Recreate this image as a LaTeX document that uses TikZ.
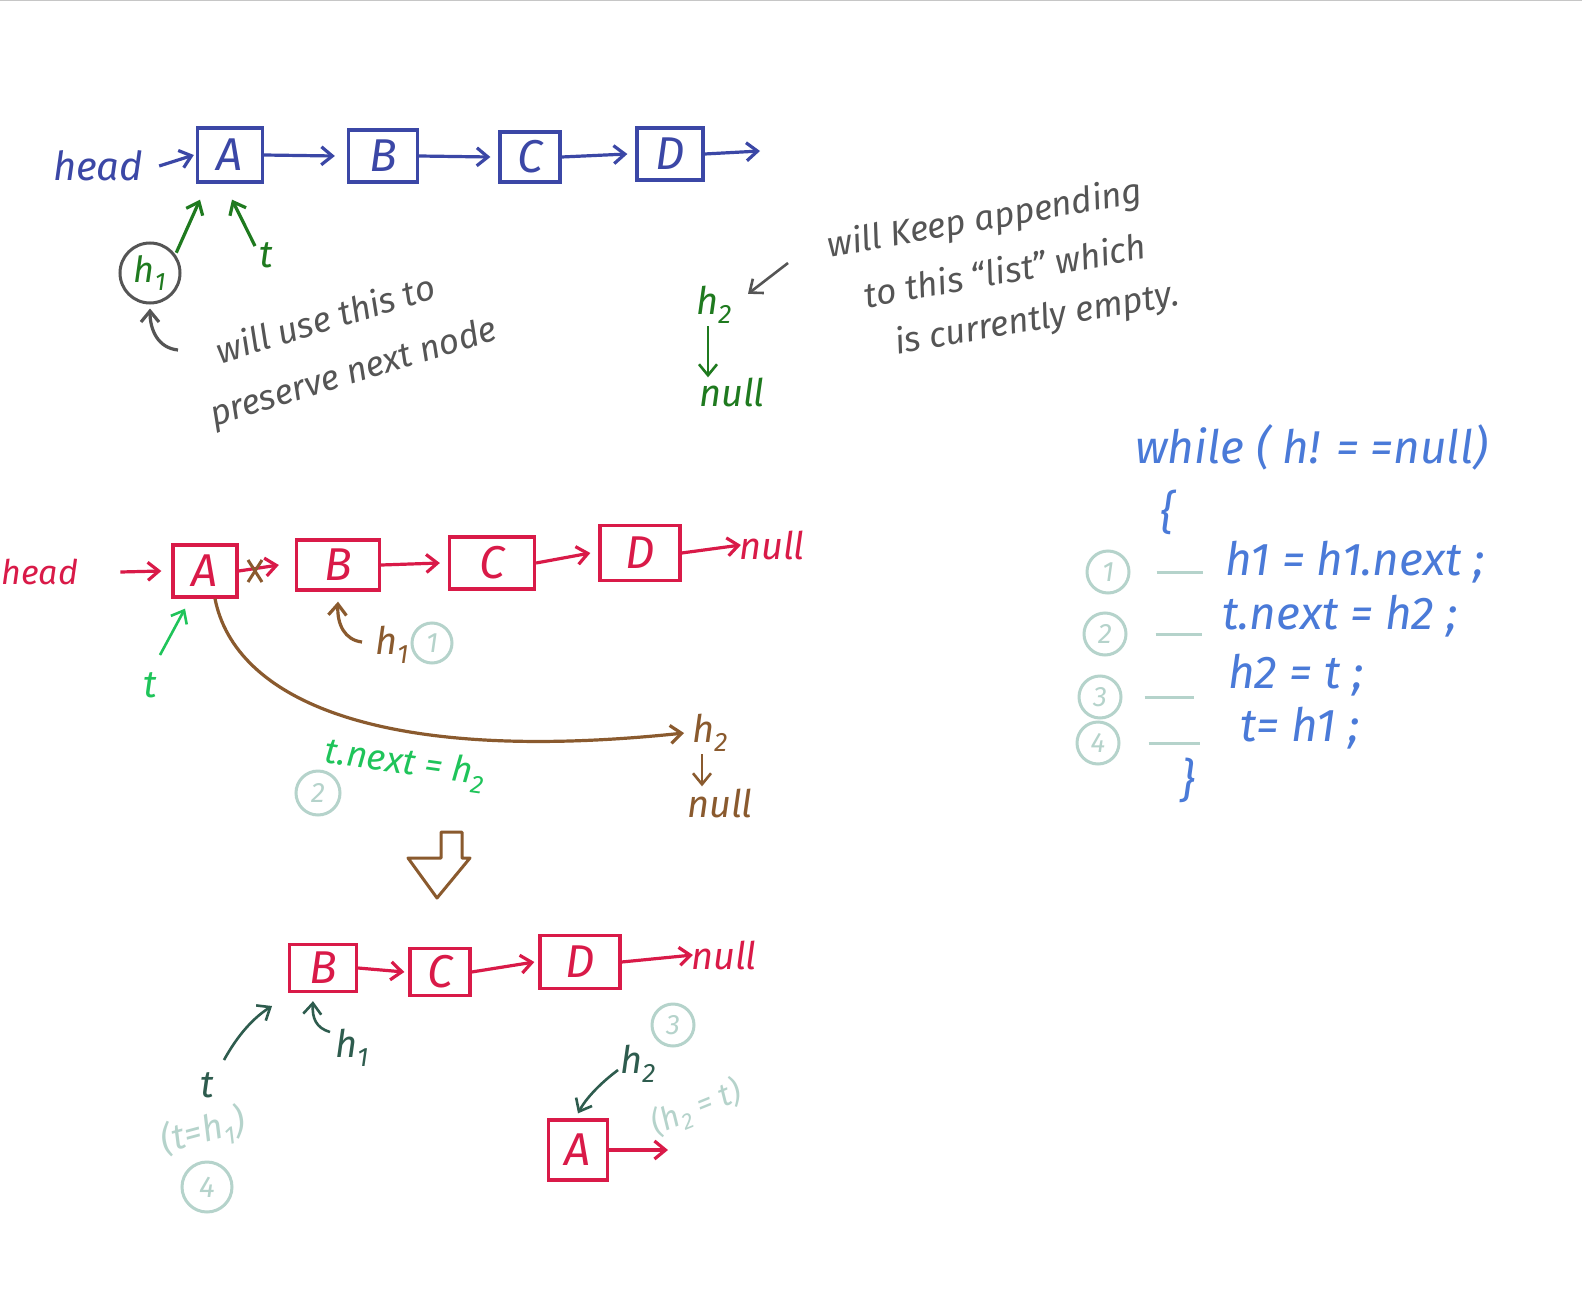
\documentclass[tikz,border=0pt]{standalone}
\usepackage{fontspec}
\setmainfont{Fira Sans}
\usetikzlibrary{arrows.meta,calc}
\definecolor{tblue}{HTML}{3B47A6}
\definecolor{dgreen}{HTML}{1F7A1F}
\definecolor{agray}{HTML}{555555}
\definecolor{cblue}{HTML}{4A7AD8}
\definecolor{lteal}{HTML}{B5D3CB}
\definecolor{mred}{HTML}{D91A48}
\definecolor{brn}{HTML}{8A5A2E}
\definecolor{bgreen}{HTML}{1FC45A}
\definecolor{dteal}{HTML}{2E5C4E}
\newcommand{\fs}[1]{\fontsize{#1}{#1}\selectfont}
\tikzset{
  box/.style={draw, line width=3.3pt, inner sep=0pt, font=\fs{46}\itshape},
  ar/.style={-{Straight Barb[length=11pt,width=18pt]}, line width=3.2pt},
  txt/.style={inner sep=2pt, font=\fs{38}\itshape},
  note/.style={inner sep=0pt, font=\fs{35}\itshape, text=agray},
  code/.style={inner sep=0pt, font=\fs{46}\itshape, text=cblue, anchor=west},
  num/.style={circle, draw=lteal, line width=3pt, text=lteal, minimum size=42pt, inner sep=0pt, font=\fs{28}\itshape},
  dsh/.style={lteal, line width=3pt},
}
\begin{document}
\begin{tikzpicture}[x=1pt,y=-1pt]
\fill[white] (0,0) rectangle (1582,1303);
\useasboundingbox (0,0) rectangle (1582,1303);
\draw[gray!45, line width=1pt] (0,1) -- (1582,1);

% ---------- top list (blue)
\node[txt, text=tblue, font=\fs{40}\itshape] (head1) at (98,166) {head};
\node[box, tblue, minimum width=65pt, minimum height=54pt] (a1) at (230,155) {A};
\node[box, tblue, minimum width=69pt, minimum height=52pt] (b1) at (383,156) {B};
\node[box, tblue, minimum width=60pt, minimum height=50pt] (c1) at (530,157) {C};
\node[box, tblue, minimum width=66pt, minimum height=52pt] (d1) at (670,154) {D};
\coordinate (d1e) at (760,151);
\draw[ar, tblue] ([xshift=14pt]head1.east) -- ([xshift=-2pt]a1.west);
\draw[ar, tblue] (a1.east) -- ([xshift=-12pt]b1.west);
\draw[ar, tblue] (b1.east) -- ([xshift=-8pt]c1.west);
\draw[ar, tblue] (c1.east) -- ([xshift=-8pt]d1.west);
\draw[ar, tblue] (d1.east) -- (d1e);

\node[circle, draw=agray, line width=3pt, text=dgreen, minimum size=60pt, inner sep=0pt, font=\fs{36}\itshape] (h1t) at (150,273) {h\textsubscript{1}};
\node[txt, text=dgreen] (tt) at (266,255) {t};
\draw[ar, dgreen] ([xshift=4pt,yshift=-2pt]h1t.north east) -- ([xshift=-30pt,yshift=-16pt]a1.south);
\draw[ar, dgreen] ([xshift=-2pt,yshift=-6pt]tt.north west) -- ([xshift=2pt,yshift=-16pt]a1.south);
\coordinate (hk1) at (178,350);
\draw[ar, agray] (hk1) .. controls (158,348) and (150,330) .. ([yshift=-4pt]h1t.south);
\node[note, rotate=17] (n1) at (325,318) {will use this to};
\node[note, rotate=17] (n2) at (354,374) {preserve next node};

\node[txt, text=dgreen] (h2t) at (714,305) {h\textsubscript{2}};
\node[txt, text=dgreen] (nullt) at (732,392) {null};
\draw[ar, dgreen, line width=2.6pt] ([xshift=-6pt]h2t.south) -- ([xshift=-24pt,yshift=-2pt]nullt.north);
\node[note, rotate=10] (n3) at (985,220) {will  Keep  appending};
\node[note, rotate=10] (n4) at (1005,270) {to this ``list'' which};
\node[note, rotate=10] (n5) at (1037,320) {is  currently  empty.};
\coordinate (n3s) at (788,263);
\draw[ar, agray, line width=2.6pt] (n3s) -- ([xshift=14pt,yshift=-10pt]h2t.north east);

% ---------- code (blue)
\node[code] (w) at (1135,447) {while ( h!  = =null)};
\node[code] (ob) at (1160,512) {\{};
\node[code] (l1) at (1225,562) {h1 = h1.next ;};
\node[code] (l2) at (1222,616) {t.next = h2 ;};
\node[code] (l3) at (1228,675) {h2 = t ;};
\node[code] (l4) at (1240,728) {t= h1 ;};
\node[code] (cb) at (1180,780) {\}};
\node[num] (c1n) at (1108,572) {1};
\node[num] (c2n) at (1105,634) {2};
\node[num] (c3n) at (1100,697) {3};
\node[num] (c4n) at (1098,743) {4};
\draw[dsh] ([xshift=26pt]c1n.east) -- ([xshift=-22pt]c1n.east -| l1.west);
\draw[dsh] ([xshift=28pt]c2n.east) -- ([xshift=-20pt]c2n.east -| l2.west);
\draw[dsh] ([xshift=22pt]c3n.east) -- ([xshift=-34pt]c3n.east -| l3.west);
\draw[dsh] ([xshift=28pt]c4n.east) -- ([xshift=-40pt]c4n.east -| l4.west);

% ---------- middle list (red)
\node[txt, text=mred, font=\fs{34}\itshape] (head2) at (40,572) {head};
\node[box, mred, minimum width=64pt, minimum height=52pt] (a2) at (205,571) {A};
\node[box, mred, minimum width=83pt, minimum height=50pt] (b2) at (338,565) {B};
\node[box, mred, minimum width=85pt, minimum height=52pt] (c2) at (492,563) {C};
\node[box, mred, minimum width=80pt, minimum height=55pt] (d2) at (640,553) {D};
\node[txt, text=mred] (null2) at (772,545) {null};
\draw[ar, mred] ([xshift=40pt]head2.east) -- ([xshift=-10pt]a2.west);
\draw[ar, mred] (a2.east) -- ([xshift=-16pt]b2.west);
\draw[brn, line width=3pt] (248,560) -- (262,582) (262,560) -- (248,582);
\draw[ar, mred] (b2.east) -- ([xshift=-8pt]c2.west);
\draw[ar, mred] (c2.east) -- ([xshift=-8pt]d2.west);
\draw[ar, mred] (d2.east) -- ([xshift=4pt]null2.west);

\node[txt, text=bgreen] (tm) at (150,685) {t};
\coordinate (tms) at (160,655);
\draw[ar, bgreen, line width=2.6pt] (tms) -- ([xshift=-20pt,yshift=-10pt]a2.south);
\node[txt, text=brn] (h1m) at (392,645) {h\textsubscript{1}};
\node[num, minimum size=40pt] (c1m) at (432,643) {1};
\coordinate (hk2) at (362,642);
\draw[ar, brn] (hk2) .. controls (345,640) and (337,625) .. ([yshift=-10pt]b2.south);
\node[txt, text=brn] (h2m) at (710,733) {h\textsubscript{2}};
\node[txt, text=brn] (nullm) at (720,803) {null};
\draw[ar, brn, line width=2.6pt] ([xshift=-8pt]h2m.south) -- ([xshift=-18pt]nullm.north);
\draw[ar, brn] ([xshift=10pt]a2.south) .. controls (235,700) and (380,765) .. ([xshift=-6pt]h2m.west);
\node[inner sep=0pt, font=\fs{36}\itshape, text=bgreen, rotate=-8] (tn) at (405,765) {t.next = h\textsubscript{2}};
\node[num, minimum size=44pt] (c2m) at (318,793) {2};

% ---------- big arrow
\draw[brn, line width=3pt, line join=round] (441,832) -- (462,832) -- (462,858) -- (470,858) -- (437,898) -- (408,858) -- (441,858) -- cycle;

% ---------- bottom list (red)
\node[box, mred, minimum width=67pt, minimum height=47pt] (b3) at (323,968) {B};
\node[box, mred, minimum width=60pt, minimum height=47pt] (c3) at (440,972) {C};
\node[box, mred, minimum width=80pt, minimum height=53pt] (d3) at (580,962) {D};
\node[txt, text=mred] (null3) at (724,955) {null};
\draw[ar, mred] (b3.east) -- ([xshift=-4pt]c3.west);
\draw[ar, mred] (c3.east) -- ([xshift=-4pt]d3.west);
\draw[ar, mred] (d3.east) -- ([xshift=4pt]null3.west);

\node[txt, text=dteal] (tb) at (207,1085) {t};
\coordinate (tbs) at (224,1060);
\coordinate (tbe) at (272,1006);
\draw[ar, dteal, line width=2.6pt] (tbs) .. controls (235,1040) and (250,1020) .. (tbe);
\node[txt, text=dteal] (h1b) at (352,1048) {h\textsubscript{1}};
\coordinate (hbs) at (330,1032);
\draw[ar, dteal, line width=2.6pt] (hbs) .. controls (316,1028) and (312,1018) .. ([xshift=-10pt,yshift=-8pt]b3.south);
\node[inner sep=0pt, font=\fs{36}\itshape, text=lteal, rotate=15] (tq) at (203,1132) {(t=h\textsubscript{1})};
\node[num, minimum size=50pt, font=\fs{30}\itshape] (c4b) at (207,1187) {4};

\node[box, mred, minimum width=59pt, minimum height=60pt] (a3) at (578,1150) {A};
\coordinate (a3e) at (668,1150);
\draw[ar, mred] (a3.east) -- (a3e);
\node[txt, text=dteal] (h2b) at (638,1064) {h\textsubscript{2}};
\draw[ar, dteal, line width=2.6pt] ([yshift=-6pt]h2b.west) .. controls (598,1085) and (585,1100) .. ([yshift=5pt]a3.north);
\node[inner sep=0pt, font=\fs{32}\itshape, text=lteal, rotate=22] (hq) at (696,1108) {(h\textsubscript{2} = t)};
\node[num, minimum size=42pt] (c3b) at (673,1025) {3};
\end{tikzpicture}
\end{document}
